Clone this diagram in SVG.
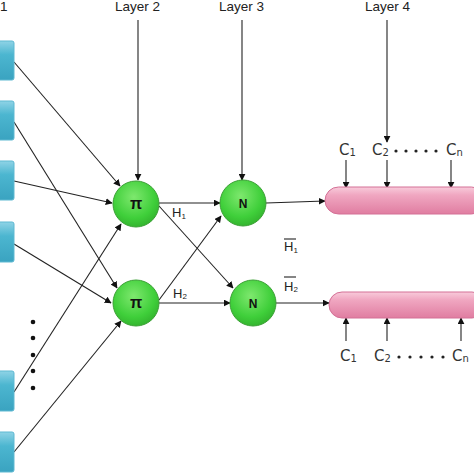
<svg xmlns="http://www.w3.org/2000/svg" width="474" height="474" viewBox="0 0 474 474">
<defs>
<linearGradient id="gBox" x1="0" y1="0" x2="0" y2="1">
<stop offset="0" stop-color="#8fd3e6"/>
<stop offset="0.35" stop-color="#4cb6d0"/>
<stop offset="1" stop-color="#3aa3c0"/>
</linearGradient>
<radialGradient id="gCirc" cx="0.45" cy="0.35" r="0.65">
<stop offset="0" stop-color="#7ee86e"/>
<stop offset="0.7" stop-color="#3fcf3a"/>
<stop offset="1" stop-color="#34b52f"/>
</radialGradient>
<linearGradient id="gPill" x1="0" y1="0" x2="0" y2="1">
<stop offset="0" stop-color="#f8cbdb"/>
<stop offset="0.3" stop-color="#f0a7c1"/>
<stop offset="1" stop-color="#e07da1"/>
</linearGradient>
<marker id="arr" viewBox="0 0 10 10" refX="9" refY="5" markerWidth="7" markerHeight="7" markerUnits="userSpaceOnUse" orient="auto">
<path d="M0,0 L10,5 L0,10 z" fill="#111"/>
</marker>
<style>
.box{fill:url(#gBox);stroke:#5fb9d2;stroke-width:1}
.circ{fill:url(#gCirc);stroke:#3ba035;stroke-width:1}
.pill{fill:url(#gPill);stroke:#d47096;stroke-width:1}
.ln{stroke:#222;stroke-width:1.1;fill:none}
.la{stroke:#222;stroke-width:1.1;fill:none;marker-end:url(#arr)}
.lay{font-family:"Liberation Sans",Arial,sans-serif;font-size:13.5px;fill:#222}
.sym{font-family:"Liberation Sans",Arial,sans-serif;font-size:16px;font-weight:bold;fill:#111;text-anchor:middle}
.h{font-family:"Liberation Sans",Arial,sans-serif;font-size:13px;fill:#222}
.sub{font-size:8px}
.c{font-family:"DejaVu Sans",Verdana,sans-serif;font-size:15px;fill:#333}
</style>
</defs>
<g id="labels">
<text class="lay" x="0" y="11">1</text>
<text class="lay" x="115" y="11">Layer 2</text>
<text class="lay" x="219" y="11">Layer 3</text>
<text class="lay" x="365" y="11">Layer 4</text>
</g>
<g id="connectors">
<line class="la" x1="138" y1="20" x2="138" y2="180"/>
<line class="la" x1="242" y1="20" x2="242" y2="180"/>
<line class="la" x1="387" y1="20" x2="387" y2="142"/>
<line class="la" x1="14" y1="62" x2="120" y2="186"/>
<line class="la" x1="14" y1="122" x2="117" y2="288"/>
<line class="la" x1="14" y1="181" x2="112" y2="203"/>
<line class="la" x1="14" y1="244" x2="111" y2="303"/>
<line class="la" x1="14" y1="392" x2="121" y2="224"/>
<line class="la" x1="14" y1="452" x2="121" y2="321"/>
<line class="la" x1="159" y1="203" x2="220" y2="203"/>
<line class="la" x1="159" y1="206" x2="233" y2="288"/>
<line class="la" x1="159" y1="300" x2="221" y2="216"/>
<line class="la" x1="159" y1="303" x2="230" y2="303"/>
<line class="la" x1="266" y1="203" x2="325" y2="201"/>
<line class="la" x1="276" y1="303" x2="329" y2="303"/>
<line class="la" x1="346" y1="160" x2="346" y2="188"/>
<line class="la" x1="387" y1="160" x2="387" y2="188"/>
<line class="la" x1="451" y1="160" x2="451" y2="188"/>
<line class="la" x1="346" y1="341" x2="346" y2="318"/>
<line class="la" x1="387" y1="341" x2="387" y2="318"/>
<line class="la" x1="461" y1="341" x2="461" y2="318"/>
</g>
<g id="in1"><rect class="box" x="-6" y="41" width="20" height="39" rx="2"/></g>
<g id="in2"><rect class="box" x="-6" y="101" width="20" height="39" rx="2"/></g>
<g id="in3"><rect class="box" x="-6" y="161" width="20" height="39" rx="2"/></g>
<g id="in4"><rect class="box" x="-6" y="222" width="20" height="40" rx="2"/></g>
<g id="in5"><rect class="box" x="-6" y="371" width="20" height="40" rx="2"/></g>
<g id="in6"><rect class="box" x="-6" y="432" width="20" height="40" rx="2"/></g>
<g id="dots" fill="#111">
<circle cx="33" cy="322" r="2.3"/>
<circle cx="33" cy="338" r="2.3"/>
<circle cx="33" cy="355" r="2.3"/>
<circle cx="33" cy="371" r="2.3"/>
<circle cx="33" cy="388" r="2.3"/>
</g>
<g id="pi1"><circle class="circ" cx="136" cy="204" r="23"/><text class="sym" x="136" y="209">π</text></g>
<g id="pi2"><circle class="circ" cx="136" cy="303" r="23"/><text class="sym" x="136" y="308">π</text></g>
<g id="n1"><circle class="circ" cx="243" cy="203" r="23"/><text class="sym" x="243" y="208" style="font-size:12px">N</text></g>
<g id="n2"><circle class="circ" cx="253" cy="303" r="23"/><text class="sym" x="253" y="308" style="font-size:12px">N</text></g>
<g id="hlabels">
<text class="h" x="172" y="217">H<tspan class="sub" dy="2">1</tspan></text>
<text class="h" x="173" y="298">H<tspan class="sub" dy="1">2</tspan></text>
<text class="h" x="284" y="251">H<tspan class="sub" dy="2">1</tspan></text>
<line class="ln" x1="284" y1="239" x2="296" y2="239"/>
<text class="h" x="284" y="291">H<tspan class="sub" dy="1">2</tspan></text>
<line class="ln" x1="284" y1="277" x2="296" y2="277"/>
</g>
<g id="pill1"><rect class="pill" x="325" y="187" width="160" height="27" rx="13.5"/></g>
<g id="pill2"><rect class="pill" x="329" y="292" width="156" height="26" rx="13"/></g>
<g id="clabels">
<text class="c" x="339" y="155">C<tspan font-size="10" dy="1">1</tspan></text>
<text class="c" x="372" y="155">C<tspan font-size="10" dy="1">2</tspan></text>
<text class="c" x="446" y="155">C<tspan font-size="10" dy="1">n</tspan></text>
<text class="c" x="340" y="361">C<tspan font-size="10" dy="1">1</tspan></text>
<text class="c" x="374" y="361">C<tspan font-size="10" dy="1">2</tspan></text>
<text class="c" x="452" y="361">C<tspan font-size="10" dy="1">n</tspan></text>
<g fill="#222">
<circle cx="396" cy="151" r="1.6"/><circle cx="406" cy="151" r="1.6"/><circle cx="416" cy="151" r="1.6"/><circle cx="426" cy="151" r="1.6"/><circle cx="436" cy="151" r="1.6"/>
<circle cx="399" cy="357" r="1.6"/><circle cx="410" cy="357" r="1.6"/><circle cx="421" cy="357" r="1.6"/><circle cx="432" cy="357" r="1.6"/><circle cx="443" cy="357" r="1.6"/>
</g>
</g>
</svg>
